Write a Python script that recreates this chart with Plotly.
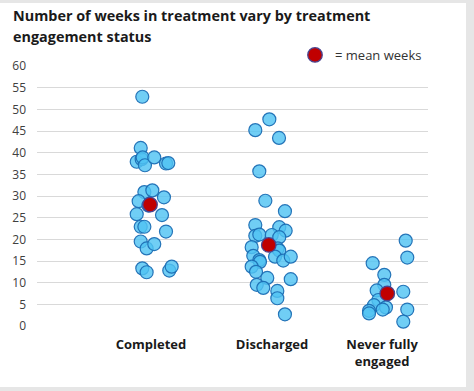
import plotly.graph_objects as go

# ---- data ----
categories = ["Completed", "Discharged", "Never fully<br>engaged"]
cat_pos = [1, 2, 3]
label_pos = [1, 2, 2.91]

completed_weeks = [52.9, 41.1, 37.9, 38.5, 38.9, 37.1, 38.9, 37.5, 37.6, 30.9, 31.3, 29.7, 28.8,
                   27.8, 25.8, 25.6, 22.9, 22.9, 21.8, 19.5, 17.9, 18.9, 13.3, 12.4, 12.8, 13.7]
completed_jitter = [-0.072, -0.085, -0.118, -0.077, -0.069, -0.050, 0.027, 0.124, 0.143, -0.055,
                    0.011, 0.107, -0.102, -0.022, -0.118, 0.091, -0.085, -0.055, 0.124, -0.085,
                    -0.036, 0.027, -0.072, -0.036, 0.151, 0.171]

discharged_weeks = [47.7, 45.2, 43.4, 35.7, 28.9, 26.5, 23.3, 22.8, 22.0, 20.8, 21.1, 21.0, 20.5,
                    18.2, 17.9, 17.4, 16.2, 15.2, 14.8, 16.0, 15.1, 16.0, 13.7, 12.5, 11.1, 10.8,
                    9.5, 8.8, 8.1, 6.4, 2.7]
discharged_jitter = [-0.022, -0.138, 0.058, -0.105, -0.055, 0.107, -0.138, 0.060, 0.113, -0.138,
                     -0.105, -0.002, 0.060, -0.168, 0.047, 0.060, -0.155, -0.105, -0.099, 0.025,
                     0.093, 0.155, -0.168, -0.132, -0.039, 0.155, -0.126, -0.072, 0.044, 0.044,
                     0.107]

never_weeks = [19.7, 15.8, 14.5, 11.8, 9.5, 8.2, 7.9, 6.0, 4.8, 4.3, 3.8, 3.5, 2.9, 3.8, 1.0]
never_jitter = [0.105, 0.118, -0.168, -0.072, -0.072, -0.135, 0.085, -0.121, -0.157, -0.058,
                -0.085, -0.198, -0.198, 0.118, 0.085]

mean_weeks = [28.0, 18.7, 7.5]
mean_jitter = [-0.008, -0.027, -0.047]

y_ticks = [0, 5, 10, 15, 20, 25, 30, 35, 40, 45, 50, 55, 60]

title_lines = ["Number of weeks in treatment vary by treatment", "engagement status"]

# ---- layout geometry (pixels) ----
W, H = 474, 391
L, R, T, B = 37, 46, 66, 65
pw, ph = W - L - R, H - T - B

def px_x(p):
    return (p - L) / pw

def px_y(p):
    return (H - B - p) / ph

groups = [(completed_weeks, completed_jitter), (discharged_weeks, discharged_jitter),
          (never_weeks, never_jitter)]

fig = go.Figure()
for (vals, jit), c in zip(groups, cat_pos):
    fig.add_trace(go.Scatter(
        x=[c + j for j in jit], y=vals, mode="markers", showlegend=False,
        cliponaxis=False, hoverinfo="y",
        marker=dict(size=13, color="rgba(80,195,243,0.82)",
                    line=dict(color="rgba(28,110,180,0.95)", width=1.2)),
    ))

fig.add_trace(go.Scatter(
    x=[c + j for c, j in zip(cat_pos, mean_jitter)], y=mean_weeks, mode="markers",
    name="= mean weeks", cliponaxis=False,
    marker=dict(size=14.5, color="#C00000", line=dict(color="#4A4490", width=1.3)),
))

annotations = [dict(
    text=f"<b>{line}</b>", xref="paper", yref="paper", x=px_x(11), y=px_y(base),
    xanchor="left", yanchor="bottom", align="left", showarrow=False, yshift=-4,
    font=dict(size=14.4, color="#1A1A1A", family="Open Sans, sans-serif"),
) for line, base in zip(title_lines, [23, 44])]

fig.update_layout(
    width=W, height=H,
    margin=dict(l=L, r=R, t=T, b=B, autoexpand=False),
    paper_bgcolor="#E6E6E6",
    plot_bgcolor="rgba(0,0,0,0)",
    font=dict(family="Open Sans, sans-serif", color="#404040"),
    showlegend=True,
    legend=dict(x=px_x(295), xanchor="left", y=px_y(55), yanchor="middle",
                bgcolor="rgba(0,0,0,0)", font=dict(size=13, color="#333333"),
                itemwidth=30, tracegroupgap=0),
    xaxis=dict(range=[1 - 114 / 121, 3 + 35 / 121], tickvals=label_pos,
               ticktext=[f"<b>{c}</b>" for c in categories],
               showgrid=False, zeroline=False, showline=False, ticks="", ticklabelstandoff=9,
               tickfont=dict(size=13, color="#1A1A1A"), fixedrange=True),
    yaxis=dict(range=[0, 60], tickvals=y_ticks, showgrid=True, gridcolor="#D9D9D9", gridwidth=1.3,
               zeroline=False, showline=False, ticks="", ticklabelstandoff=10,
               tickfont=dict(size=12, color="#404040"), fixedrange=True),
    shapes=[dict(type="rect", xref="paper", yref="paper", layer="below",
                 x0=px_x(0), x1=px_x(466), y0=px_y(387), y1=px_y(3),
                 fillcolor="white", line=dict(width=0))],
    annotations=annotations,
)

fig.write_html("out.html", config={"displayModeBar": False},
               post_script="document.body.style.margin='0';document.body.style.overflow='hidden';")
